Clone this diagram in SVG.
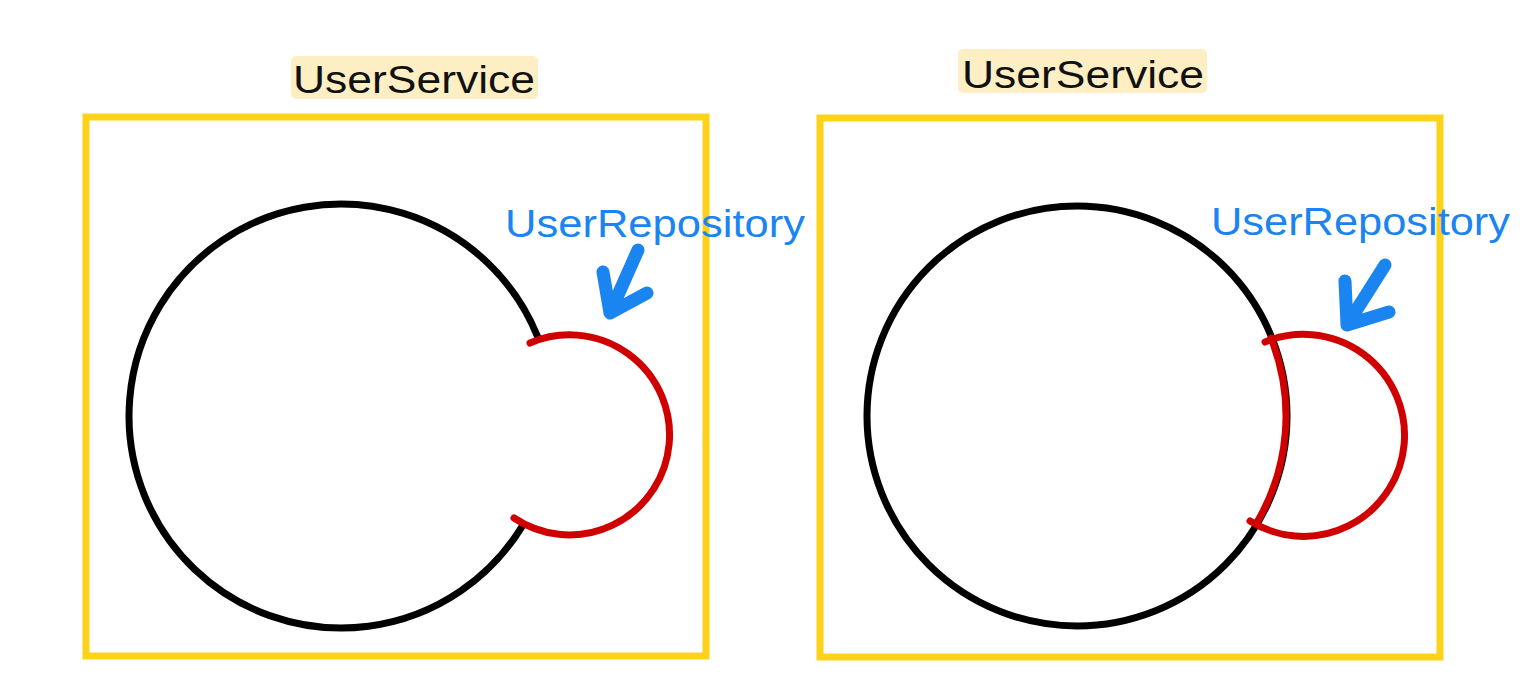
<svg xmlns="http://www.w3.org/2000/svg" width="1535" height="683" viewBox="0 0 1535 683">
<style>
.frame{fill:none;stroke:#FFD21A;stroke-width:7}
.hl{fill:#FDEFC3}
.title{font-family:"Liberation Sans",Arial,sans-serif;font-size:39px;fill:#111}
.repo{font-family:"Liberation Sans",Arial,sans-serif;font-size:38px;fill:#1A84F0}
.black{fill:none;stroke:#000;stroke-width:7;stroke-linecap:round}
.red{fill:none;stroke:#D00000;stroke-width:7;stroke-linecap:round}
.arrow{fill:none;stroke:#1A84F0;stroke-width:13;stroke-linecap:round;stroke-linejoin:round}
</style>
<rect width="1535" height="683" fill="#fff"/>
<g id="left-service">
<rect class="hl" x="291" y="56" width="247" height="43" rx="5"/>
<text class="title" x="293" y="93" textLength="242" lengthAdjust="spacingAndGlyphs">UserService</text>
<rect class="frame" x="86" y="117" width="620" height="539"/>
<path class="black" d="M521.8,526.8 A212,212 0 1,1 537.6,336.6"/>
</g>
<g id="left-repository">
<path class="red" d="M530,343 A100,100 0 1,1 514,518"/>
<text class="repo" x="505" y="237" textLength="300" lengthAdjust="spacingAndGlyphs">UserRepository</text>
</g>
<g id="right-service">
<rect class="hl" x="958" y="49" width="249" height="44" rx="5"/>
<text class="title" x="962" y="88" textLength="242" lengthAdjust="spacingAndGlyphs">UserService</text>
<rect class="frame" x="820" y="118" width="620" height="539"/>
<circle class="black" cx="1077" cy="416" r="210"/>
</g>
<g id="right-repository">
<path class="red" d="M1265,342 A101,101 0 1,1 1250,521"/>
<path class="red" d="M1271,338 A210,210 0 0,1 1256,524"/>
<text class="repo" x="1211" y="235" textLength="299" lengthAdjust="spacingAndGlyphs">UserRepository</text>
</g>
<g id="connectors">
<path class="arrow" d="M638,250 L610,313 M603,272 L610,313 L647,293"/>
<path class="arrow" d="M1385,265 L1347,325 M1345,281 L1347,325 L1389,312"/>
</g>
</svg>
